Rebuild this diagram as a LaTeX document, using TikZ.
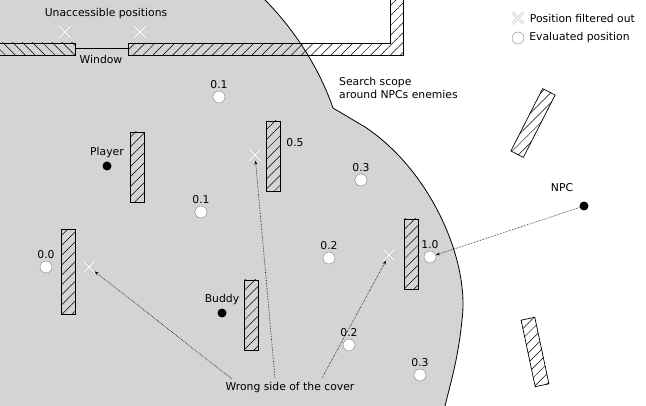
\documentclass[tikz,border=0pt]{standalone}
\usepackage{fontspec}
\setmainfont{DejaVu Sans}
\usetikzlibrary{positioning, calc, patterns.meta, arrows.meta, shapes.misc}

\tikzset{
    hatch/.style={pattern={Lines[angle=45,distance=7pt,line width=0.5pt]}},
    hatchback/.style={pattern={Lines[angle=-45,distance=7pt,line width=0.5pt]}},
    cover/.style={draw, hatch, rectangle, minimum width=14pt, minimum height=70pt, inner sep=0pt, line width=0.7pt},
    cand/.style={draw=gray, fill=white, circle, minimum size=12pt, inner sep=0pt},
    filtered/.style={cross out, draw=gray!60, double=white, double distance=1.4pt, line width=0.4pt, minimum size=11pt, inner sep=0pt},
    agent/.style={fill, circle, minimum size=9pt, inner sep=0pt},
    lbl/.style={font=\fontsize{10.8}{13}\selectfont, inner sep=1pt},
    hint/.style={densely dotted, semithick, -{Stealth[length=4pt,width=3pt]}}
}

\begin{document}
\begin{tikzpicture}[x=1pt, y=-1pt]
\useasboundingbox (0,0) rectangle (646,406);

% search scope
\fill[black!17] (0,0) -- (265,0) .. controls (295,30) and (320,70) .. (333,108) -- (365,127)
    .. controls (430,170) and (470,260) .. (462,320) .. controls (458,360) and (450,385) .. (445,406) -- (0,406) -- cycle;
\draw[line width=0.8pt] (265,0) .. controls (295,30) and (320,70) .. (333,108) -- (365,127)
    .. controls (430,170) and (470,260) .. (462,320) .. controls (458,360) and (450,385) .. (445,406);

% walls and window
\draw[hatchback, line width=0.6pt] (-2,43) rectangle (75,55);
\draw[line width=0.6pt] (75,48) -- (128,48);
\draw[hatch, line width=0.6pt] (128,43) -- (390,43) -- (390,-2) -- (403,-2) -- (403,55) -- (128,55) -- cycle;
\node[filtered] (u1) at (65,32) {};
\node[filtered] (u2) at (140,32) {};
\node[lbl] (unacc) at (106,14) {Unaccessible positions};
\node[lbl] (window) at (101,59) {Window};

% legend
\node[filtered] (lgx) at (518,18) {};
\node[lbl, right=5pt of lgx] {Position filtered out};
\node[cand] (lgo) at (518,38) {};
\node[lbl, right=4pt of lgo] {Evaluated position};

\node[lbl, align=left, anchor=north west] (scope) at (338,76) {Search scope\\around NPCs enemies};

% covers
\node[cover] (c1) at (137,167) {};
\node[cover] (c2) at (273,156) {};
\node[cover, minimum height=85pt] (c3) at (68,272) {};
\node[cover] (c4) at (251,315) {};
\node[cover] (c5) at (411,254) {};
\node[cover, rotate=-27] (c6) at (533,123) {};
\node[cover, rotate=12, minimum height=68pt] (c7) at (535,352) {};

% agents
\node[agent] (player) at (107,166) {};
\node[lbl, above=2pt of player] {Player};
\node[agent] (buddy) at (222,313) {};
\node[lbl, above=2pt of buddy] {Buddy};
\node[agent] (npc) at (584,206) {};
\node[lbl] at (562,188) {NPC};

% evaluated positions
\foreach \n/\px/\py/\v in {p1/219/97/0.1, p2/201/212/0.1, p3/361/180/0.3, p4/329/258/0.2,
    p5/430/257/1.0, p6/46/267/0.0, p7/349/345/0.2, p8/420/375/0.3}
{
    \node[cand] (\n) at (\px,\py) {};
    \node[lbl, above=1pt of \n] {\v};
}
\node[lbl] at (295,143) {0.5};

% filtered positions
\node[filtered] (f1) at (255,155) {};
\node[filtered] (f2) at (89,267) {};
\node[filtered] (f3) at (389,255) {};

\node[lbl] (wrong) at (290,388) {Wrong side of the cover};
\coordinate (w1) at (232,379);
\coordinate (w2) at (275,378);
\coordinate (w3) at (322,378);
\draw[hint] (w1) -- (f2);
\draw[hint] (w2) -- (f1);
\draw[hint] (w3) -- (f3);
\draw[hint] (npc) -- (p5);

\end{tikzpicture}
\end{document}
